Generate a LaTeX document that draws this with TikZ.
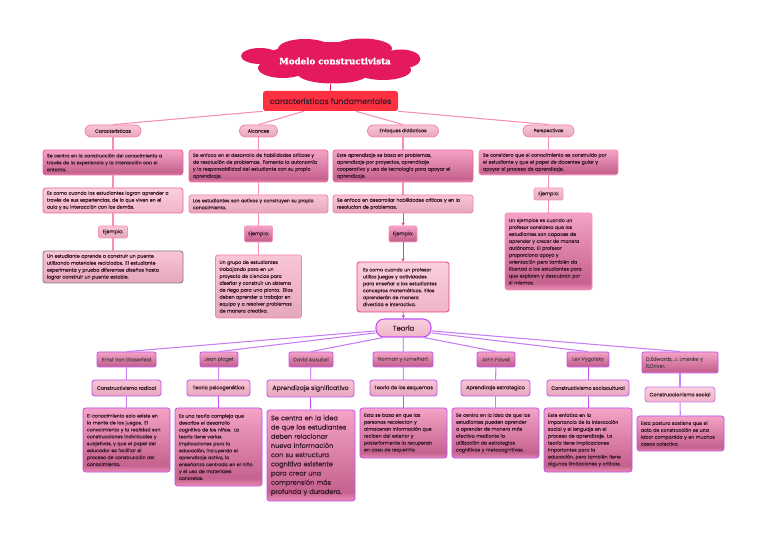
\documentclass[tikz,border=0pt]{standalone}
\usepackage{fontspec}
\setmainfont{Poppins}[FakeBold=0.2]
\newfontfamily\titlefont{DejaVu Serif}[BoldFeatures={FakeBold=1.5}]
\usetikzlibrary{arrows.meta}
\definecolor{inkdark}{HTML}{3A1A2C}
\definecolor{cloudred}{HTML}{E5195F}
\definecolor{mainred}{HTML}{FF3040}
\definecolor{linepink}{HTML}{F78FB5}
\definecolor{linestrong}{HTML}{EC3F7C}
\definecolor{linepurple}{HTML}{C77DF5}
\definecolor{edgepink}{HTML}{F0639A}
\definecolor{edgepurple}{HTML}{C050F0}
\definecolor{dkA}{HTML}{F4A3C6}
\definecolor{dkB}{HTML}{C5628F}
\definecolor{dkC}{HTML}{EC8DB5}
\definecolor{ltA}{HTML}{F9C6D6}
\definecolor{ltB}{HTML}{E5A6BC}
\definecolor{paA}{HTML}{FACFDC}
\definecolor{paB}{HTML}{F0B4C8}
\pgfdeclareverticalshading{dkshade}{100bp}{color(0bp)=(dkC); color(25bp)=(dkC); color(30bp)=(dkB); color(75bp)=(dkA); color(100bp)=(dkA)}
\pgfdeclareverticalshading{ltshade}{100bp}{color(0bp)=(ltB); color(25bp)=(ltB); color(75bp)=(ltA); color(100bp)=(ltA)}
\pgfdeclareverticalshading{pashade}{100bp}{color(0bp)=(paB); color(25bp)=(paB); color(75bp)=(paA); color(100bp)=(paA)}
\begin{document}
\begin{tikzpicture}[x=.75pt,y=-.75pt,
    dim/.style 2 args={minimum width=#1*.75pt, minimum height=#2*.75pt, text width=#1*.75pt-6pt},
    tag/.style 2 args={minimum width=#1*.75pt, minimum height=#2*.75pt},
    every node/.style={inner sep=0pt, text=inkdark, font=\fontsize{3.5}{5.2}\selectfont},
    info/.style={rectangle, rounded corners=2pt, line width=.6pt, align=left},
    pill/.style={rectangle, rounded corners=4.5pt, line width=.6pt, shade, shading=ltshade, draw=edgepink!80, align=center},
    uppdark/.style={info, shade, shading=dkshade, draw=edgepink},
    upplight/.style={info, shade, shading=ltshade, draw=edgepink!80},
    uppexam/.style={info, shade, shading=pashade, draw=edgepink},
    ejemplo/.style={rectangle, rounded corners=1pt, shade, shading=ltshade, draw=edgepink!70, font=\fontsize{3.7}{5.2}\selectfont},
    lowdark/.style={info, shade, shading=dkshade, draw=edgepurple},
    lowlight/.style={rectangle, rounded corners=2pt, line width=.6pt, shade, shading=ltshade, draw=edgepurple, align=center, font=\fontsize{3.7}{5.2}\selectfont},
    author/.style={rectangle, rounded corners=1.5pt, line width=.6pt, shade, shading=dkshade, draw=edgepurple, align=left, text=inkdark!80, font=\fontsize{3.7}{5.2}\selectfont},
    uplink/.style={linepink, line width=.8pt},
    strong/.style={linestrong, line width=.7pt, -{Stealth[length=2.5pt,width=2.5pt]}},
    lowlink/.style={linepurple, line width=.8pt},
    lowsolid/.style={edgepurple, line width=.6pt}
  ]
  \useasboundingbox (0,0) rectangle (768,538);

  % Title cloud and main box
  \fill[cloudred] (260,56) ellipse [x radius=19, y radius=8]
    (305,49) ellipse [x radius=27, y radius=10]
    (362,48.5) ellipse [x radius=30, y radius=10]
    (401,59) ellipse [x radius=19.5, y radius=9.5]
    (283,68) ellipse [x radius=25, y radius=10]
    (333,74) ellipse [x radius=35, y radius=9.5]
    (383,70) ellipse [x radius=28, y radius=10]
    (331,60) ellipse [x radius=68, y radius=18];
  \node[tag={112}{46}, text=white, font=\fontsize{6.5}{7}\titlefont\bfseries] (modelo) at (335,61) {Modelo constructivista};
  \node[rectangle, rounded corners=2pt, fill=mainred, tag={135}{20}, font=\fontsize{5.9}{8}\selectfont] (fund) at (330.5,101) {características fundamentales};

  % Categories
  \node[pill, tag={56}{12}] (carac) at (113,131) {Características};
  \node[pill, tag={38}{12}] (alcan) at (258.5,131) {Alcances};
  \node[pill, tag={71}{12}] (enfoq) at (403,131) {Enfoques didácticos};
  \node[pill, tag={51}{12}] (persp) at (548.5,131) {Perspectivas};

  % Caracteristicas
  \node[uppdark, dim={140}{25}] (carac1) at (113,162.5) {Se centra en la construcción del conocimiento a\\través de la experiencia y la interacción con el\\entorno.};
  \node[uppexam, dim={140}{25}] (carac2) at (113,200.5) {Es como cuando los estudiantes logran aprender a\\través de sus experiencias, de lo que viven en el\\aula y su interacción con los demás.};
  \node[ejemplo, tag={29}{12}] (caracej) at (113,232) {Ejemplo:};
  \node[upplight, draw=inkdark!60, dim={140}{32}] (carac3) at (113,267) {Un estudiante aprende a construir un puente\\utilizando materiales reciclados. El estudiante\\experimenta y prueba diferentes diseños hasta\\lograr construir un puente estable.};

  % Alcances
  \node[uppdark, dim={139}{32}] (alcan1) at (258.5,166) {Se enfoca en el desarrollo de habilidades críticas y\\de resolución de problemas. Fomenta la autonomía\\y la responsabilidad del estudiante con su propio\\aprendizaje.};
  \node[upplight, dim={139}{18}] (alcan2) at (258.5,204) {Los estudiantes son activos y construyen su propio\\conocimiento.};
  \node[ejemplo, shading=dkshade, tag={28}{16}] (alcanej) at (258.5,234) {Ejemplo:};
  \node[upplight, dim={86}{63}] (alcan3) at (258.5,286.5) {Un grupo de estudiantes\\trabajando para en un\\proyecto de ciencias para\\diseñar y construir un sistema\\de riego para una planta. Ellos\\deben aprender a trabajar en\\equipo y a resolver problemas\\de manera creativa.};

  % Enfoques
  \node[uppdark, dim={140}{32}] (enfoq1) at (403,166) {Este aprendizaje se basa en problemas,\\aprendizaje por proyectos, aprendizaje\\cooperativo y uso de tecnología para apoyar el\\aprendizaje.};
  \node[upplight, dim={140}{18}] (enfoq2) at (403,204) {Se enfoca en desarrollar habilidades críticas y en la\\resolucion de problemas.};
  \node[ejemplo, shading=dkshade, tag={28}{16}] (enfoqej) at (403,234) {Ejemplo:};
  \node[uppexam, draw=linestrong, dim={92}{50}, text width=60pt] (enfoq3) at (403,287) {Es como cuando un profesor\\utiliza juegos y actividades\\para enseñar a los estudiantes\\conceptos matemáticos. Ellos\\aprenderán de manera\\divertida e interactiva.};

  % Perspectivas
  \node[uppdark, draw=linepink, dim={139}{25}] (persp1) at (548.5,162.5) {Se considera que el conocimiento es construido por\\el estudiante y que el papel de docentes guiar y\\apoyar el proceso de aprendizaje.};
  \node[ejemplo, tag={29}{12}] (perspej) at (548.5,194) {Ejemplo:};
  \node[uppdark, draw=linepink, dim={87}{77}] (persp3) at (548.5,251.5) {Un ejemplos es cuando un\\profesor considera que los\\estudiantes son capaces de\\aprender y crecer de manera\\autónoma. El profesor\\proporciona apoyo y\\orientación pero también da\\libertad a los estudiantes para\\que exploren y descubran por\\sí mismos.};

  % Teoria
  \node[rectangle, rounded corners=6pt, line width=.8pt, shade, shading=pashade, draw=edgepurple, tag={55}{18}, font=\fontsize{5.2}{7}\selectfont] (teoria) at (403.5,328) {Teoría};

  % Authors
  \node[author, tag={59}{15}] (ernst) at (126.5,359.5) {Ernst Von Glaserfeld};
  \node[author, tag={38}{15}] (jean) at (219,359.5) {Jean piaget};
  \node[author, tag={44}{15}] (david) at (311,359.5) {David Ausubel};
  \node[author, tag={60}{15}] (norman) at (403,359.5) {Norman y rumelhart};
  \node[author, tag={38}{15}] (john) at (496,359.5) {John Flavell};
  \node[author, tag={42}{15}] (lev) at (588,359.5) {Lev Vygotsky};
  \node[author, dim={76}{21}] (edwards) at (680,362.5) {D.Edwards, J. Lmenke y\\R.Driver.};

  % Theories
  \node[lowlight, tag={69}{16}] (radical) at (126.5,388) {Constructivismo radical};
  \node[lowlight, tag={63}{16}] (psico) at (218.5,388) {Teoria psicogenética};
  \node[lowlight, tag={87}{17}, font=\fontsize{4.7}{6}\selectfont] (signif) at (310.5,388.5) {Aprendizaje significativo};
  \node[lowlight, tag={67}{16}] (esquem) at (403.5,388) {Teoria de los esquemas};
  \node[lowlight, tag={69}{16}] (estrat) at (495.5,388) {Aprendizaje estrategico};
  \node[lowlight, tag={82}{16}] (socio) at (588,388) {Constructivismo sociocultural};
  \node[lowlight, shading=pashade, draw=linepurple, tag={70}{15}] (social) at (680,394.5) {Construccionismo social};

  % Descriptions
  \node[lowdark, dim={87}{64}] (desc1) at (126.5,440) {El conocimiento solo existe en\\la mente de los juegos. El\\conocimiento y la realidad son\\construcciones individuales y\\subjetivas, y que el papel del\\educador es facilitar el\\proceso de construcción del\\conocimiento.};
  \node[lowdark, dim={87}{78}] (desc2) at (218.5,447) {Es una teoría compleja que\\describe el desarrollo\\cognitivo de los niños. La\\teoría tiene varias\\implicaciones para la\\educación, incluyendo el\\aprendizaje activo, la\\enseñanza centrada en el niño\\y el uso de materiales\\concretos.};
  \node[lowdark, dim={88}{91}, font=\fontsize{4.9}{6.9}\selectfont] (desc3) at (311,455.5) {Se centra en la idea\\de que los estudiantes\\deben relacionar\\nueva información\\con su estructura\\cognitiva existente\\para crear una\\comprensión más\\profunda y duradera.};
  \node[lowdark, dim={87}{50}] (desc4) at (403.5,433) {Esta se basa en que las\\personas recolectan y\\almacenan información que\\reciben del exterior y\\posteriormente la recuperan\\en caso de requerirla.};
  \node[lowdark, dim={87}{50}] (desc5) at (495.5,433) {Se centra en la idea de que los\\estudiantes pueden aprender\\a aprender de manera más\\efectiva mediante la\\utilización de estrategias\\cognitivas y metacognitivas.};
  \node[lowdark, dim={88}{64}] (desc6) at (588,440) {Este enfatiza en la\\importancia de la interacción\\social y el lenguaje en el\\proceso de aprendizaje. La\\teoría tiene implicaciones\\importantes para la\\educación, pero también tiene\\algunas limitaciones y críticas.};
  \node[lowdark, dim={87}{35}] (desc7) at (680.5,433.5) {Esta postura sostiene que el\\acto de construcción es una\\labor compartida y en muchos\\casos colectiva.};

  % Connections
  \draw[cloudred, line width=1pt] (modelo.south -| fund.north) -- (fund.north);
  \draw[uplink] (fund.south west) -- (carac.north);
  \draw[uplink] (fund.201) -- (alcan.north);
  \draw[uplink] (fund.338) -- (enfoq.north);
  \draw[uplink] (fund.south east) -- (persp.north);

  \draw[uplink] (carac) -- (carac1);
  \draw[uplink] (carac1) -- (carac2);
  \draw[uplink] (carac2) -- (caracej);
  \draw[uplink] (caracej) -- (carac3);
  \draw[uplink] (alcan) -- (alcan1);
  \draw[uplink] (alcan1) -- (alcan2);
  \draw[uplink] (alcan2) -- (alcanej);
  \draw[uplink] (alcanej) -- (alcan3);
  \draw[uplink] (enfoq) -- (enfoq1);
  \draw[uplink] (enfoq1) -- (enfoq2);
  \draw[strong] (enfoq2) -- (enfoqej);
  \draw[strong] (enfoqej) -- (enfoq3);
  \draw[uplink] (persp) -- (persp1);
  \draw[uplink] (persp1) -- (perspej);
  \draw[uplink] (perspej) -- (persp3);

  \draw[lowsolid, -{Stealth[length=2.5pt,width=2.5pt]}] (enfoq3) -- (teoria);
  \draw[lowlink] (teoria.186) -- (ernst.north);
  \draw[lowlink] (teoria.190) -- (jean.north);
  \draw[lowlink] (teoria.205) -- (david.north);
  \draw[lowsolid] (teoria) -- (norman);
  \draw[lowlink] (teoria.335) -- (john.north);
  \draw[lowlink] (teoria.350) -- (lev.north);
  \draw[lowlink] (teoria.354) -- (edwards.north);

  \draw[lowlink] (ernst) -- (radical);
  \draw[lowsolid] (jean) -- (psico);
  \draw[lowsolid] (david) -- (signif);
  \draw[lowsolid] (norman) -- (esquem);
  \draw[lowlink] (john) -- (estrat);
  \draw[lowsolid] (lev) -- (socio);
  \draw[lowlink] (edwards) -- (social);
  \draw[lowlink] (radical) -- (desc1);
  \draw[lowsolid] (psico) -- (desc2);
  \draw[lowsolid] (signif) -- (desc3);
  \draw[lowsolid] (esquem) -- (desc4);
  \draw[lowlink] (estrat) -- (desc5);
  \draw[lowsolid] (socio) -- (desc6);
  \draw[lowlink] (social) -- (desc7);
\end{tikzpicture}
\end{document}
